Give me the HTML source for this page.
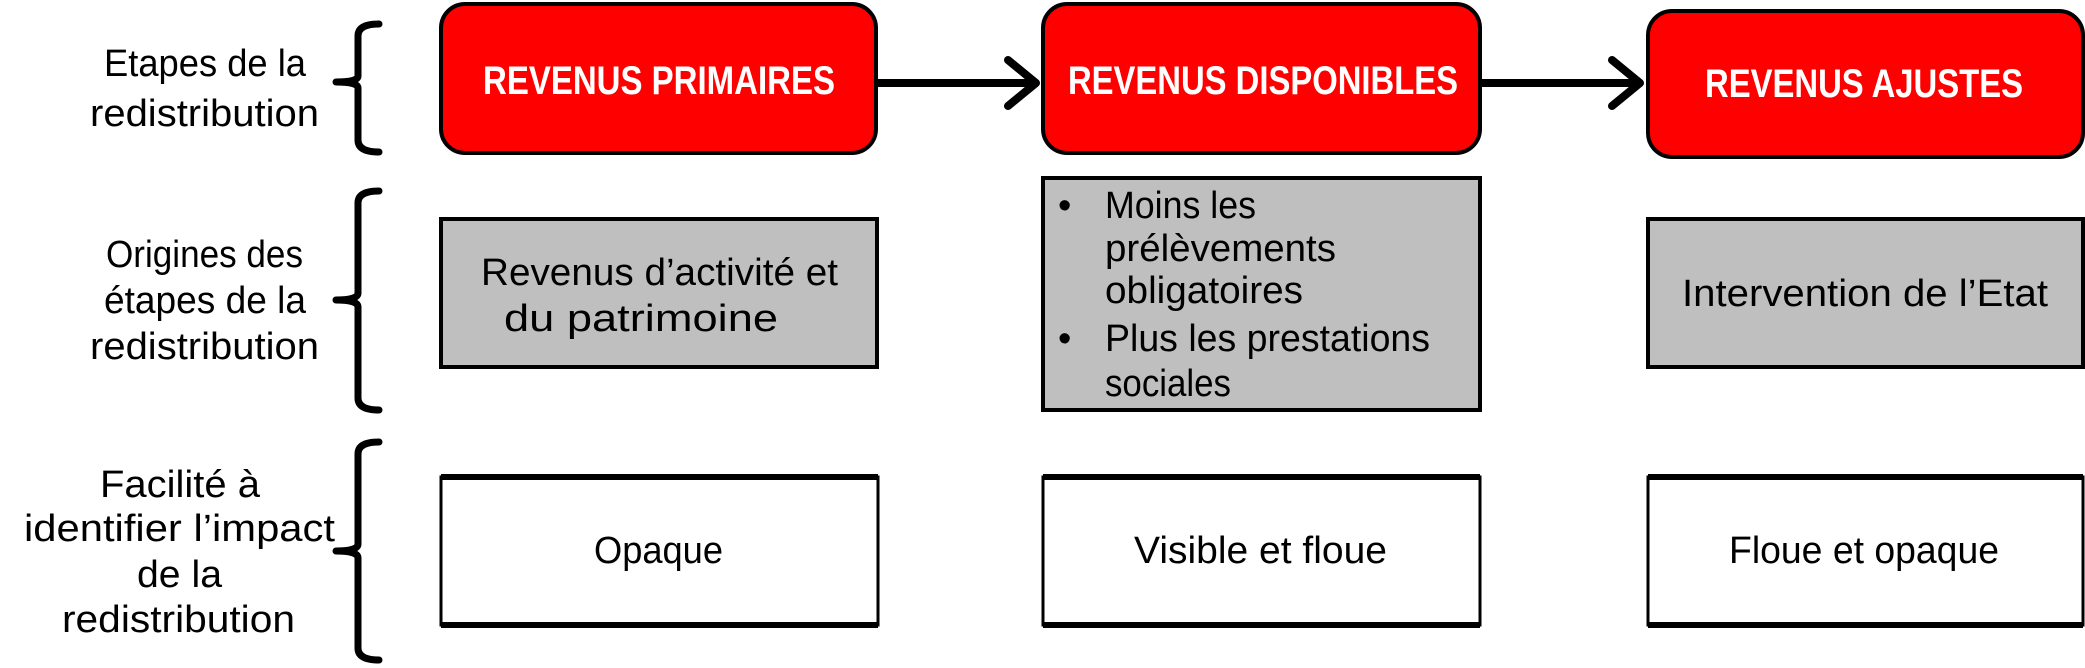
<!DOCTYPE html>
<html><head><meta charset="utf-8"><style>html,body{margin:0;padding:0;background:#fff}svg{display:block}</style></head>
<body>
<svg width="2085" height="668" viewBox="0 0 2085 668" xmlns="http://www.w3.org/2000/svg" font-family="'Liberation Sans', sans-serif">
<g fill="none" stroke="#000" stroke-width="7" stroke-linecap="round" stroke-linejoin="round">
<path d="M379 24 Q358 24 358 36 L358 76 Q358 82 336 82 Q358 82 358 88 L358 140 Q358 152 379 152"/>
<path d="M379 191 Q358 191 358 203 L358 293 Q358 300 336 300 Q358 300 358 307 L358 398 Q358 410 379 410"/>
<path d="M379 442 Q358 442 358 454 L358 544 Q358 551 336 551 Q358 551 358 558 L358 648 Q358 660 379 660"/>
</g>
<g fill="none" stroke="#000" stroke-width="8" stroke-linecap="round" stroke-linejoin="round">
<path d="M876 83 L1034 83 M1008 60 L1036 83 L1008 106"/>
<path d="M1480 83 L1638 83 M1612 60 L1640 83 L1612 106"/>
</g>
<g fill="#ff0000" stroke="#000" stroke-width="4">
<rect x="441" y="4" width="435" height="149" rx="24"/>
<rect x="1043" y="4" width="437" height="149" rx="24"/>
<rect x="1648" y="11" width="435" height="146" rx="24"/>
</g>
<g fill="#bfbfbf" stroke="#000" stroke-width="4">
<rect x="441" y="219" width="436" height="148"/>
<rect x="1043" y="178" width="437" height="232"/>
<rect x="1648" y="219" width="435" height="148"/>
</g>
<g fill="#fff" stroke="#000" stroke-width="3">
<rect x="441" y="477" width="437" height="148"/>
<rect x="1043" y="477" width="437" height="148"/>
<rect x="1648" y="477" width="435" height="148"/>
</g>
<g fill="none" stroke="#000" stroke-width="6">
<path d="M441 477 H878 M441 625 H878 M1043 477 H1480 M1043 625 H1480 M1648 477 H2083 M1648 625 H2083"/>
</g>
<g fill="#fff" font-weight="bold" font-size="40">
<text x="483" y="94" textLength="352" lengthAdjust="spacingAndGlyphs">REVENUS PRIMAIRES</text>
<text x="1068" y="94" textLength="390" lengthAdjust="spacingAndGlyphs">REVENUS DISPONIBLES</text>
<text x="1705" y="97" textLength="318" lengthAdjust="spacingAndGlyphs">REVENUS AJUSTES</text>
</g>
<g fill="#000" font-size="38">
<text x="104" y="76" textLength="202" lengthAdjust="spacingAndGlyphs">Etapes de la</text>
<text x="90" y="126" textLength="229" lengthAdjust="spacingAndGlyphs">redistribution</text>
<text x="106" y="267" textLength="197" lengthAdjust="spacingAndGlyphs">Origines des</text>
<text x="104" y="313" textLength="202" lengthAdjust="spacingAndGlyphs">étapes de la</text>
<text x="90" y="359" textLength="229" lengthAdjust="spacingAndGlyphs">redistribution</text>
<text x="100" y="497" textLength="160" lengthAdjust="spacingAndGlyphs">Facilité à</text>
<text x="24" y="541" textLength="311" lengthAdjust="spacingAndGlyphs">identifier l’impact</text>
<text x="137" y="587" textLength="85" lengthAdjust="spacingAndGlyphs">de la</text>
<text x="62" y="632" textLength="233" lengthAdjust="spacingAndGlyphs">redistribution</text>
<text x="481" y="285" textLength="357" lengthAdjust="spacingAndGlyphs">Revenus d’activité et</text>
<text x="504" y="331" textLength="274" lengthAdjust="spacingAndGlyphs">du patrimoine</text>
<text x="1058" y="218">•</text>
<text x="1105" y="218" textLength="151" lengthAdjust="spacingAndGlyphs">Moins les</text>
<text x="1105" y="261" textLength="231" lengthAdjust="spacingAndGlyphs">prélèvements</text>
<text x="1105" y="303" textLength="198" lengthAdjust="spacingAndGlyphs">obligatoires</text>
<text x="1058" y="351">•</text>
<text x="1105" y="351" textLength="325" lengthAdjust="spacingAndGlyphs">Plus les prestations</text>
<text x="1105" y="396" textLength="126" lengthAdjust="spacingAndGlyphs">sociales</text>
<text x="1682" y="306" textLength="366" lengthAdjust="spacingAndGlyphs">Intervention de l’Etat</text>
<text x="594" y="563" textLength="129" lengthAdjust="spacingAndGlyphs">Opaque</text>
<text x="1134" y="563" textLength="253" lengthAdjust="spacingAndGlyphs">Visible et floue</text>
<text x="1729" y="563" textLength="270" lengthAdjust="spacingAndGlyphs">Floue et opaque</text>
</g>
</svg>
</body></html>
